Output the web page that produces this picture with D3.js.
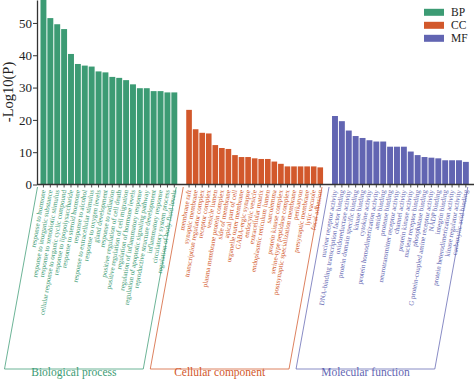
<!DOCTYPE html>
<html><head><meta charset="utf-8">
<script src="https://cdn.jsdelivr.net/npm/d3@7"></script>
<style>
body{margin:0;background:#fff}
svg{display:block}
text{font-family:"Liberation Serif","Times New Roman",serif}
</style>
</head><body>
<svg id="chart" width="474" height="379"></svg>
<script>
// ---------- data ----------
const bpTerms = [
  "response to hormone","response to inorganic substance","response to xenobiotic stimulus",
  "cellular response to organic cyclic compound","response to lipopolysaccharide",
  "response to steroid hormone","response to alcohol","response to extracellular stimulus",
  "response to oxygen levels","gland development","response to radiation",
  "positive regulation of cell death","positive regulation of cell migration",
  "regulation of hormone levels","regulation of inflammatory response",
  "regulation of apoptotic signaling pathway","reproductive structure development",
  "inflammatory response","circulatory system process","regulation of body fluid levels"
];
const bpValues = [58,51.5,49.6,48.1,40.4,37.3,36.8,36.5,35.0,34.7,33.3,33.0,32.3,31.0,29.8,29.8,28.9,28.9,28.5,28.5];

const ccTerms = [
  "membrane raft","synaptic membrane","transcription regulator complex","receptor complex",
  "vesicle lumen","plasma membrane protein complex","side of membrane","apical part of cell",
  "organelle outer membrane","GABA-ergic synapse","endocytic vesicle","extracellular matrix",
  "endoplasmic reticulum lumen","sarcolemma","protein kinase complex",
  "serine-type peptidase complex","postsynaptic specialization membrane","perikaryon",
  "presynaptic membrane","lytic vacuole","focal adhesion"
];
const ccValues = [23.1,17.1,16.0,15.8,12.2,11.3,11.0,9.1,8.5,8.5,8.1,7.9,7.9,7.1,6.4,5.6,5.6,5.6,5.6,5.6,5.3];

const mfTerms = [
  "nuclear receptor activity","DNA-binding transcription factor binding","oxidoreductase activity",
  "protein domain specific binding","kinase binding","cytokine activity",
  "protein homodimerization activity","amide binding","protease binding",
  "neurotransmitter receptor activity","channel activity","protein kinase activity",
  "nuclear receptor binding","phosphatase binding","G protein-coupled amine receptor activity",
  "NADP binding","integrin binding","protein heterodimerization activity",
  "kinase regulator activity","carboxylic acid binding"
];
const mfValues = [21.2,19.6,16.7,15.0,14.4,13.7,13.3,13.3,11.7,11.7,11.7,10.2,9.1,8.5,8.3,8.1,7.5,7.5,7.5,7.0];

const groupKeys = ["BP","CC","MF"];
const groupNames = ["Biological process","Cellular component","Molecular function"];
const groupColors = ["#3c9b74","#d2582b","#6265b2"];
const yTicks = [0,10,20,30,40,50];
const yTitle = "-Log10(P)";

// ---------- layout ----------
const groups = [
  {key:"BP", terms:bpTerms, values:bpValues},
  {key:"CC", terms:ccTerms, values:ccValues},
  {key:"MF", terms:mfTerms, values:mfValues}
];
const svg = d3.select("#chart");
const axisX = 37, baseY = 184.5;

const y = d3.scaleLinear().domain([0,57.1]).range([baseY,0]);
const gx = d3.scaleBand().domain(groupKeys).range([40,469.3]).paddingInner(0.055);

groups.forEach((g,i)=>{
  const x0 = gx(g.key), w = gx.bandwidth();
  const x = d3.scaleBand().domain(g.terms).range([0,w]).paddingInner(0.14).paddingOuter(0.07);
  const G = svg.append("g").attr("transform",`translate(${x0},0)`);
  G.selectAll("rect").data(g.terms).join("rect")
    .attr("x",d=>x(d)).attr("width",x.bandwidth())
    .attr("y",(d,j)=>y(g.values[j])).attr("height",(d,j)=>baseY-y(g.values[j]))
    .attr("fill",groupColors[i]);
  const ax = G.append("g").attr("transform",`translate(0,${baseY})`)
    .call(d3.axisBottom(x).tickSize(3).tickSizeOuter(0));
  ax.select(".domain").remove();
  ax.selectAll(".tick line").attr("stroke","#222").attr("stroke-width",0.8);
  ax.selectAll(".tick text")
    .attr("x",0).attr("y",0).attr("dy","0.32em")
    .attr("transform","translate(0,5.5) rotate(-80)")
    .attr("text-anchor","end")
    .attr("font-size",7).attr("font-family","Liberation Serif")
    .attr("fill",groupColors[i]);

  const xl = x0-2.5, xr = x0+w-1.5, sh = 33;
  svg.append("path")
    .attr("d",`M${xl},187 L${xl-sh},369 L${xr-sh},369 L${xr},187`)
    .attr("fill","none").attr("stroke",groupColors[i]).attr("stroke-opacity",0.75).attr("stroke-width",1);
  svg.append("text").attr("x",(xl+xr)/2-sh).attr("y",376)
    .attr("text-anchor","middle").attr("font-size",11.5).attr("fill",groupColors[i])
    .text(groupNames[i]);
});

svg.append("line").attr("x1",axisX).attr("x2",474).attr("y1",baseY).attr("y2",baseY)
  .attr("stroke","#333").attr("stroke-width",1.3);

const yAx = svg.append("g").attr("transform",`translate(${axisX},0)`)
  .call(d3.axisLeft(y).tickValues(yTicks).tickSize(4).tickSizeOuter(0));
yAx.select(".domain").attr("stroke","#333").attr("stroke-width",1.3);
yAx.selectAll(".tick line").attr("stroke","#333");
yAx.selectAll(".tick text").attr("font-size",13).attr("font-family","Liberation Serif").attr("fill","#222").attr("x",-5);

svg.append("text").attr("transform","translate(13,92) rotate(-90)")
  .attr("text-anchor","middle").attr("font-size",14.5).attr("fill","#222").text(yTitle);

const lg = svg.append("g");
groupKeys.forEach((k,i)=>{
  const cy = 12.3 + i*13;
  lg.append("rect").attr("x",424).attr("y",cy-3.5).attr("width",20).attr("height",7).attr("fill",groupColors[i]);
  lg.append("text").attr("x",451).attr("y",cy).attr("dy","0.35em").attr("font-size",11.5).attr("fill","#222").text(k);
});
</script>
</body></html>
